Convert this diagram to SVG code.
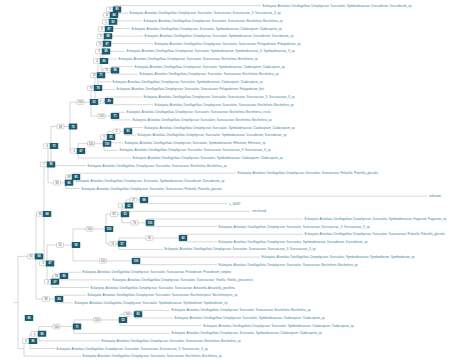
<svg xmlns="http://www.w3.org/2000/svg" xmlns:xlink="http://www.w3.org/1999/xlink" width="474" height="364" viewBox="0 0 474 364">
<defs>
<style>
.br{fill:none;stroke:#c6c6c6;stroke-width:0.7}
.lb{font-family:"Liberation Sans",Arial,sans-serif;font-size:3px;fill:#41809e}
.wt{font-family:"Liberation Sans",Arial,sans-serif;font-size:2.8px;fill:#555;text-anchor:middle}
.dt{font-family:"Liberation Sans",Arial,sans-serif;font-size:2.8px;fill:#fff;text-anchor:middle;font-weight:bold}
</style>
<rect id="wb" x="-3.5" y="-2.3" width="7" height="4.6" rx="0.8" fill="#fff" stroke="#9a9a9a" stroke-width="0.4"/>
<rect id="db" x="-4.25" y="-3" width="8.5" height="6" rx="0.4" fill="#1d5c6e"/>
</defs>
<rect width="474" height="364" fill="#fff"/>
<g id="connectors" class="br">
<path d="M114 5.6V13.2 M111 9.4V20.8 M110 15.1V28.5 M106 21.8V36.1 M105 29V43.7 M104 36.3V51.3 M103 43.8V58.9 M112 66.6V74.2 M101 51.4V70.4 M98 60.9V89.4 M106 97V104.7 M95 75.2V100.9 M112 112.3V119.9 M91 88V116.1 M125 127.5V135.1 M108 131.3V142.8 M104 137V150.4 M78 143.7V158 M70 102.1V150.9 M51 126.5V165.6 M73 173.2V180.9 M66 177V188.5 M48 146V182.8 M141 196.1V203.7 M126 199.9V211.3 M147 219V226.6 M122 205.6V222.8 M180 234.2V241.8 M119 238V249.4 M106 214.2V243.7 M133 257.1V264.7 M73 229V260.9 M61 272.3V279.9 M52 276.1V287.5 M47 245V281.8 M44 164.4V263.4 M56 295.2V302.8 M36 213.9V299 M135 310.4V318 M120 314.2V325.6 M74 319.9V333.3 M39 326.6V340.9 M30 333.7V348.5 M24 341.1V356.1 M18 256.4V348.6"/>
<path d="M114 5.6H261 M114 13.2H128 M111 20.8H142 M110 28.5H130 M106 36.1H143 M105 43.7H153 M104 51.3H125 M103 58.9H117 M112 66.6H133 M112 74.2H138 M98 81.8H111 M98 89.4H115 M106 97H142 M106 104.7H153 M112 112.3H125 M112 119.9H131 M125 127.5H143 M125 135.1H136 M108 142.8H123 M104 150.4H118 M78 158H131 M51 165.6H86 M73 173.2H236 M73 180.9H74 M66 188.5H80 M141 196.1H427 M141 203.7H227 M126 211.3H250 M147 219H303 M147 226.6H217 M180 234.2H303 M180 241.8H217 M119 249.4H163 M133 257.1H260 M133 264.7H217 M61 272.3H81 M61 279.9H111 M52 287.5H89 M56 295.2H86 M56 302.8H73 M135 310.4H170 M135 318H173 M120 325.6H202 M74 333.3H170 M39 340.9H100 M30 348.5H55 M24 356.1H81"/>
<path d="M111 9.4H114 M110 15.1H111 M106 21.8H110 M105 29H106 M104 36.3H105 M103 43.8H104 M101 51.4H103 M101 70.4H112 M98 60.9H101 M95 75.2H98 M95 100.9H106 M91 88H95 M91 116.1H112 M70 102.1H91 M108 131.3H125 M104 137H108 M78 143.7H104 M70 150.9H78 M51 126.5H70 M48 146H51 M66 177H73 M48 182.8H66 M44 164.4H48 M126 199.9H141 M122 205.6H126 M122 222.8H147 M106 214.2H122 M119 238H180 M106 243.7H119 M73 229H106 M73 260.9H133 M47 245H73 M52 276.1H61 M47 281.8H52 M44 263.4H47 M36 213.9H44 M36 299H56 M18 256.4H36 M120 314.2H135 M74 319.9H120 M39 326.6H74 M30 333.7H39 M24 341.1H30 M18 348.6H24 M14 302.5H18"/>
</g>
<g id="leaves">
<g id="leaf0"><text class="lb" x="262.5" y="6.6">Eukaryota; Alveolata; Dinoflagellata; Dinophyceae; Suessiales; Symbiodiniaceae; Durusdinium; Durusdinium_sp</text></g>
<g id="leaf1"><text class="lb" x="129.5" y="14.2">Eukaryota; Alveolata; Dinoflagellata; Dinophyceae; Suessiales; Suessiaceae; Suessiaceae_X; Suessiaceae_X_sp</text></g>
<g id="leaf2"><text class="lb" x="143.5" y="21.8">Eukaryota; Alveolata; Dinoflagellata; Dinophyceae; Suessiales; Suessiaceae; Biecheleria; Biecheleria_sp</text></g>
<g id="leaf3"><text class="lb" x="131.5" y="29.5">Eukaryota; Alveolata; Dinoflagellata; Dinophyceae; Suessiales; Symbiodiniaceae; Cladocopium; Cladocopium_sp</text></g>
<g id="leaf4"><text class="lb" x="144.5" y="37.1">Eukaryota; Alveolata; Dinoflagellata; Dinophyceae; Suessiales; Symbiodiniaceae; Durusdinium; Durusdinium_sp</text></g>
<g id="leaf5"><text class="lb" x="154.5" y="44.7">Eukaryota; Alveolata; Dinoflagellata; Dinophyceae; Suessiales; Suessiaceae; Pelagodinium; Pelagodinium_sp</text></g>
<g id="leaf6"><text class="lb" x="126.5" y="52.3">Eukaryota; Alveolata; Dinoflagellata; Dinophyceae; Suessiales; Symbiodiniaceae; Symbiodiniaceae_X; Symbiodiniaceae_X_sp</text></g>
<g id="leaf7"><text class="lb" x="118.5" y="59.9">Eukaryota; Alveolata; Dinoflagellata; Dinophyceae; Suessiales; Suessiaceae; Biecheleria; Biecheleria_sp</text></g>
<g id="leaf8"><text class="lb" x="134.5" y="67.6">Eukaryota; Alveolata; Dinoflagellata; Dinophyceae; Suessiales; Symbiodiniaceae; Cladocopium; Cladocopium_sp</text></g>
<g id="leaf9"><text class="lb" x="139.5" y="75.2">Eukaryota; Alveolata; Dinoflagellata; Dinophyceae; Suessiales; Suessiaceae; Biecheleria; Biecheleria_sp</text></g>
<g id="leaf10"><text class="lb" x="112.5" y="82.8">Eukaryota; Alveolata; Dinoflagellata; Dinophyceae; Suessiales; Symbiodiniaceae; Cladocopium; Cladocopium_sp</text></g>
<g id="leaf11"><text class="lb" x="116.5" y="90.4">Eukaryota; Alveolata; Dinoflagellata; Dinophyceae; Suessiales; Suessiaceae; Pelagodinium; Pelagodinium_beii</text></g>
<g id="leaf12"><text class="lb" x="143.5" y="98">Eukaryota; Alveolata; Dinoflagellata; Dinophyceae; Suessiales; Suessiaceae; Suessiaceae_X; Suessiaceae_X_sp</text></g>
<g id="leaf13"><text class="lb" x="154.5" y="105.7">Eukaryota; Alveolata; Dinoflagellata; Dinophyceae; Suessiales; Suessiaceae; Biecheleria; Biecheleria_sp</text></g>
<g id="leaf14"><text class="lb" x="126.5" y="113.3">Eukaryota; Alveolata; Dinoflagellata; Dinophyceae; Suessiales; Suessiaceae; Biecheleria; Biecheleria_cincta</text></g>
<g id="leaf15"><text class="lb" x="132.5" y="120.9">Eukaryota; Alveolata; Dinoflagellata; Dinophyceae; Suessiales; Suessiaceae; Biecheleria; Biecheleria_sp</text></g>
<g id="leaf16"><text class="lb" x="144.5" y="128.5">Eukaryota; Alveolata; Dinoflagellata; Dinophyceae; Suessiales; Symbiodiniaceae; Cladocopium; Cladocopium_sp</text></g>
<g id="leaf17"><text class="lb" x="137.5" y="136.1">Eukaryota; Alveolata; Dinoflagellata; Dinophyceae; Suessiales; Symbiodiniaceae; Durusdinium; Durusdinium_sp</text></g>
<g id="leaf18"><text class="lb" x="124.5" y="143.8">Eukaryota; Alveolata; Dinoflagellata; Dinophyceae; Suessiales; Symbiodiniaceae; Effrenium; Effrenium_sp</text></g>
<g id="leaf19"><text class="lb" x="119.5" y="151.4">Eukaryota; Alveolata; Dinoflagellata; Dinophyceae; Suessiales; Suessiaceae; Suessiaceae_X; Suessiaceae_X_sp</text></g>
<g id="leaf20"><text class="lb" x="132.5" y="159">Eukaryota; Alveolata; Dinoflagellata; Dinophyceae; Suessiales; Symbiodiniaceae; Cladocopium; Cladocopium_sp</text></g>
<g id="leaf21"><text class="lb" x="87.5" y="166.6">Eukaryota; Alveolata; Dinoflagellata; Dinophyceae; Suessiales; Suessiaceae; Biecheleria; Biecheleria_sp</text></g>
<g id="leaf22"><text class="lb" x="237.5" y="174.2">Eukaryota; Alveolata; Dinoflagellata; Dinophyceae; Suessiales; Suessiaceae; Polarella; Polarella_glacialis</text></g>
<g id="leaf23"><text class="lb" x="75.5" y="181.9">Eukaryota; Alveolata; Dinoflagellata; Dinophyceae; Suessiales; Symbiodiniaceae; Durusdinium; Durusdinium_sp</text></g>
<g id="leaf24"><text class="lb" x="81.5" y="189.5">Eukaryota; Alveolata; Dinoflagellata; Dinophyceae; Suessiales; Suessiaceae; Polarella; Polarella_glacialis</text></g>
<g id="leaf25"><text class="lb" x="429" y="197.1">unknown</text></g>
<g id="leaf26"><text class="lb" x="229" y="204.7">s_16667</text></g>
<g id="leaf27"><text class="lb" x="252" y="212.3">uncultured</text></g>
<g id="leaf28"><text class="lb" x="304.5" y="220">Eukaryota; Alveolata; Dinoflagellata; Dinophyceae; Suessiales; Symbiodiniaceae; Fugacium; Fugacium_sp</text></g>
<g id="leaf29"><text class="lb" x="218.5" y="227.6">Eukaryota; Alveolata; Dinoflagellata; Dinophyceae; Suessiales; Suessiaceae; Suessiaceae_X; Suessiaceae_X_sp</text></g>
<g id="leaf30"><text class="lb" x="304.5" y="235.2">Eukaryota; Alveolata; Dinoflagellata; Dinophyceae; Suessiales; Suessiaceae; Polarella; Polarella_glacialis</text></g>
<g id="leaf31"><text class="lb" x="218.5" y="242.8">Eukaryota; Alveolata; Dinoflagellata; Dinophyceae; Suessiales; Symbiodiniaceae; Durusdinium; Durusdinium_sp</text></g>
<g id="leaf32"><text class="lb" x="164.5" y="250.4">Eukaryota; Alveolata; Dinoflagellata; Dinophyceae; Suessiales; Suessiaceae; Suessiaceae_X; Suessiaceae_X_sp</text></g>
<g id="leaf33"><text class="lb" x="261.5" y="258.1">Eukaryota; Alveolata; Dinoflagellata; Dinophyceae; Suessiales; Symbiodiniaceae; Symbiodinium; Symbiodinium_sp</text></g>
<g id="leaf34"><text class="lb" x="218.5" y="265.7">Eukaryota; Alveolata; Dinoflagellata; Dinophyceae; Suessiales; Suessiaceae; Biecheleria; Biecheleria_sp</text></g>
<g id="leaf35"><text class="lb" x="82.5" y="273.3">Eukaryota; Alveolata; Dinoflagellata; Dinophyceae; Suessiales; Suessiaceae; Protodinium; Protodinium_simplex</text></g>
<g id="leaf36"><text class="lb" x="112.5" y="280.9">Eukaryota; Alveolata; Dinoflagellata; Dinophyceae; Suessiales; Suessiaceae; Yihiella; Yihiella_yeosuensis</text></g>
<g id="leaf37"><text class="lb" x="90.5" y="288.5">Eukaryota; Alveolata; Dinoflagellata; Dinophyceae; Suessiales; Suessiaceae; Ansanella; Ansanella_granifera</text></g>
<g id="leaf38"><text class="lb" x="87.5" y="296.2">Eukaryota; Alveolata; Dinoflagellata; Dinophyceae; Suessiales; Suessiaceae; Biecheleriopsis; Biecheleriopsis_sp</text></g>
<g id="leaf39"><text class="lb" x="74.5" y="303.8">Eukaryota; Alveolata; Dinoflagellata; Dinophyceae; Suessiales; Symbiodiniaceae; Symbiodinium; Symbiodinium_sp</text></g>
<g id="leaf40"><text class="lb" x="171.5" y="311.4">Eukaryota; Alveolata; Dinoflagellata; Dinophyceae; Suessiales; Suessiaceae; Biecheleria; Biecheleria_sp</text></g>
<g id="leaf41"><text class="lb" x="174.5" y="319">Eukaryota; Alveolata; Dinoflagellata; Dinophyceae; Suessiales; Symbiodiniaceae; Cladocopium; Cladocopium_sp</text></g>
<g id="leaf42"><text class="lb" x="203.5" y="326.6">Eukaryota; Alveolata; Dinoflagellata; Dinophyceae; Suessiales; Symbiodiniaceae; Cladocopium; Cladocopium_sp</text></g>
<g id="leaf43"><text class="lb" x="171.5" y="334.3">Eukaryota; Alveolata; Dinoflagellata; Dinophyceae; Suessiales; Symbiodiniaceae; Cladocopium; Cladocopium_sp</text></g>
<g id="leaf44"><text class="lb" x="101.5" y="341.9">Eukaryota; Alveolata; Dinoflagellata; Dinophyceae; Suessiales; Suessiaceae; Biecheleria; Biecheleria_sp</text></g>
<g id="leaf45"><text class="lb" x="56.5" y="349.5">Eukaryota; Alveolata; Dinoflagellata; Dinophyceae; Suessiales; Suessiaceae; Suessiaceae_X; Suessiaceae_X_sp</text></g>
<g id="leaf46"><text class="lb" x="82.5" y="357.1">Eukaryota; Alveolata; Dinoflagellata; Dinophyceae; Suessiales; Suessiaceae; Biecheleria; Biecheleria_sp</text></g>
</g>
<g id="nodes">
<g id="n-a1"><use href="#wb" x="110" y="9.4"/><text class="wt" x="110" y="10.4">9</text><use href="#db" x="117" y="9.4"/><text class="dt" x="117" y="10.4">80</text></g>
<g id="n-a2"><use href="#wb" x="107" y="15.1"/><text class="wt" x="107" y="16.1">12</text><use href="#db" x="114" y="15.1"/><text class="dt" x="114" y="16.1">84</text></g>
<g id="n-a3"><use href="#wb" x="106" y="21.8"/><text class="wt" x="106" y="22.8">5</text><use href="#db" x="113" y="21.8"/><text class="dt" x="113" y="22.8">83</text></g>
<g id="n-a4"><use href="#wb" x="102" y="29"/><text class="wt" x="102" y="30">8</text><use href="#db" x="109" y="29"/><text class="dt" x="109" y="30">87</text></g>
<g id="n-a5"><use href="#wb" x="101" y="36.3"/><text class="wt" x="101" y="37.3">11</text><use href="#db" x="108" y="36.3"/><text class="dt" x="108" y="37.3">88</text></g>
<g id="n-a6"><use href="#wb" x="100" y="43.8"/><text class="wt" x="100" y="44.8">75</text><use href="#db" x="107" y="43.8"/><text class="dt" x="107" y="44.8">87</text></g>
<g id="n-a7"><use href="#wb" x="99" y="51.4"/><text class="wt" x="99" y="52.4">3</text><use href="#db" x="106" y="51.4"/><text class="dt" x="106" y="52.4">85</text></g>
<g id="n-b1"><use href="#wb" x="97" y="60.9"/><text class="wt" x="97" y="61.9">4</text><use href="#db" x="104" y="60.9"/><text class="dt" x="104" y="61.9">86</text></g>
<g id="n-b2"><use href="#wb" x="106.5" y="70.4"/><text class="wt" x="106.5" y="71.4">70</text><use href="#db" x="115" y="70.4"/><text class="dt" x="115" y="71.4">88</text></g>
<g id="n-X"><use href="#wb" x="94" y="75.2"/><text class="wt" x="94" y="76.2">13</text><use href="#db" x="101" y="75.2"/><text class="dt" x="101" y="76.2">71</text></g>
<g id="n-c1"><use href="#wb" x="100.5" y="100.9"/><text class="wt" x="100.5" y="101.9">4</text><use href="#db" x="109" y="100.9"/><text class="dt" x="109" y="101.9">89</text></g>
<g id="n-d1"><use href="#wb" x="91" y="88"/><text class="wt" x="91" y="89">79</text><use href="#db" x="98" y="88"/><text class="dt" x="98" y="89">78</text></g>
<g id="n-c2"><use href="#wb" x="101.5" y="116.1"/><text class="wt" x="101.5" y="117.1">100</text><use href="#db" x="115" y="116.1"/><text class="dt" x="115" y="117.1">71</text></g>
<g id="n-e"><use href="#wb" x="80.5" y="102.1"/><text class="wt" x="80.5" y="103.1">100</text><use href="#db" x="94" y="102.1"/><text class="dt" x="94" y="103.1">52</text></g>
<g id="n-i1"><use href="#wb" x="116.5" y="131.3"/><text class="wt" x="116.5" y="132.3">4</text><use href="#db" x="128" y="131.3"/><text class="dt" x="128" y="132.3">80</text></g>
<g id="n-i2"><use href="#wb" x="104" y="137"/><text class="wt" x="104" y="138">9</text><use href="#db" x="111" y="137"/><text class="dt" x="111" y="138">85</text></g>
<g id="n-i3"><use href="#wb" x="91" y="143.7"/><text class="wt" x="91" y="144.7">100</text><use href="#db" x="107" y="143.7"/><text class="dt" x="107" y="144.7">100</text></g>
<g id="n-h"><use href="#wb" x="74" y="150.9"/><text class="wt" x="74" y="151.9">4</text><use href="#db" x="81" y="150.9"/><text class="dt" x="81" y="151.9">67</text></g>
<g id="n-g"><use href="#wb" x="60.5" y="126.5"/><text class="wt" x="60.5" y="127.5">88</text><use href="#db" x="73" y="126.5"/><text class="dt" x="73" y="127.5">75</text></g>
<g id="n-j"><use href="#wb" x="47" y="146"/><text class="wt" x="47" y="147">4</text><use href="#db" x="54" y="146"/><text class="dt" x="54" y="147">72</text></g>
<g id="n-m"><use href="#wb" x="69" y="177"/><text class="wt" x="69" y="178">88</text><use href="#db" x="76" y="177"/><text class="dt" x="76" y="178">85</text></g>
<g id="n-n"><use href="#wb" x="57" y="182.8"/><text class="wt" x="57" y="183.8">88</text><use href="#db" x="69" y="182.8"/><text class="dt" x="69" y="183.8">86</text></g>
<g id="n-k"><use href="#wb" x="44" y="164.4"/><text class="wt" x="44" y="165.4">2</text><use href="#db" x="51" y="164.4"/><text class="dt" x="51" y="165.4">96</text></g>
<g id="n-p1"><use href="#wb" x="133.5" y="199.9"/><text class="wt" x="133.5" y="200.9">47</text><use href="#db" x="144" y="199.9"/><text class="dt" x="144" y="200.9">88</text></g>
<g id="n-p2"><use href="#wb" x="122" y="205.6"/><text class="wt" x="122" y="206.6">4</text><use href="#db" x="129" y="205.6"/><text class="dt" x="129" y="206.6">61</text></g>
<g id="n-p3"><use href="#wb" x="134.5" y="222.8"/><text class="wt" x="134.5" y="223.8">76</text><use href="#db" x="150" y="222.8"/><text class="dt" x="150" y="223.8">100</text></g>
<g id="n-p4"><use href="#wb" x="114" y="214.2"/><text class="wt" x="114" y="215.2">82</text><use href="#db" x="125" y="214.2"/><text class="dt" x="125" y="215.2">53</text></g>
<g id="n-p5"><use href="#wb" x="149.5" y="238"/><text class="wt" x="149.5" y="239">80</text><use href="#db" x="183" y="238"/><text class="dt" x="183" y="239">92</text></g>
<g id="n-p6"><use href="#wb" x="112.5" y="243.7"/><text class="wt" x="112.5" y="244.7">74</text><use href="#db" x="122" y="243.7"/><text class="dt" x="122" y="244.7">57</text></g>
<g id="n-p7"><use href="#wb" x="89.5" y="229"/><text class="wt" x="89.5" y="230">100</text><use href="#db" x="109" y="229"/><text class="dt" x="109" y="230">100</text></g>
<g id="n-p8"><use href="#wb" x="103" y="260.9"/><text class="wt" x="103" y="261.9">100</text><use href="#db" x="136" y="260.9"/><text class="dt" x="136" y="261.9">100</text></g>
<g id="n-p9"><use href="#wb" x="60" y="245"/><text class="wt" x="60" y="246">50</text><use href="#db" x="76" y="245"/><text class="dt" x="76" y="246">95</text></g>
<g id="n-s"><use href="#wb" x="56.5" y="276.1"/><text class="wt" x="56.5" y="277.1">86</text><use href="#db" x="64" y="276.1"/><text class="dt" x="64" y="277.1">86</text></g>
<g id="n-t"><use href="#wb" x="48" y="281.8"/><text class="wt" x="48" y="282.8">4</text><use href="#db" x="55" y="281.8"/><text class="dt" x="55" y="282.8">67</text></g>
<g id="n-r"><use href="#wb" x="43" y="263.4"/><text class="wt" x="43" y="264.4">4</text><use href="#db" x="50" y="263.4"/><text class="dt" x="50" y="264.4">67</text></g>
<g id="n-q1"><use href="#wb" x="40" y="213.9"/><text class="wt" x="40" y="214.9">96</text><use href="#db" x="47" y="213.9"/><text class="dt" x="47" y="214.9">84</text></g>
<g id="n-u"><use href="#wb" x="46" y="299"/><text class="wt" x="46" y="300">88</text><use href="#db" x="59" y="299"/><text class="dt" x="59" y="300">84</text></g>
<g id="n-v"><use href="#wb" x="31" y="256.4"/><text class="wt" x="31" y="257.4">84</text><use href="#db" x="39" y="256.4"/><text class="dt" x="39" y="257.4">64</text></g>
<g id="n-x1"><use href="#wb" x="127.5" y="314.2"/><text class="wt" x="127.5" y="315.2">100</text><use href="#db" x="138" y="314.2"/><text class="dt" x="138" y="315.2">83</text></g>
<g id="n-x2"><use href="#wb" x="97" y="319.9"/><text class="wt" x="97" y="320.9">100</text><use href="#db" x="123" y="319.9"/><text class="dt" x="123" y="320.9">52</text></g>
<g id="n-x3"><use href="#wb" x="56.5" y="326.6"/><text class="wt" x="56.5" y="327.6">100</text><use href="#db" x="77" y="326.6"/><text class="dt" x="77" y="327.6">71</text></g>
<g id="n-x4"><use href="#wb" x="34.5" y="333.7"/><text class="wt" x="34.5" y="334.7">4</text><use href="#db" x="42" y="333.7"/><text class="dt" x="42" y="334.7">86</text></g>
<g id="n-x5"><use href="#wb" x="26" y="341.1"/><text class="wt" x="26" y="342.1">4</text><use href="#db" x="33" y="341.1"/><text class="dt" x="33" y="342.1">86</text></g>
<g id="n-root"><use href="#db" x="29" y="318"/><text class="dt" x="29" y="319">86</text></g>
</g>
</svg>
